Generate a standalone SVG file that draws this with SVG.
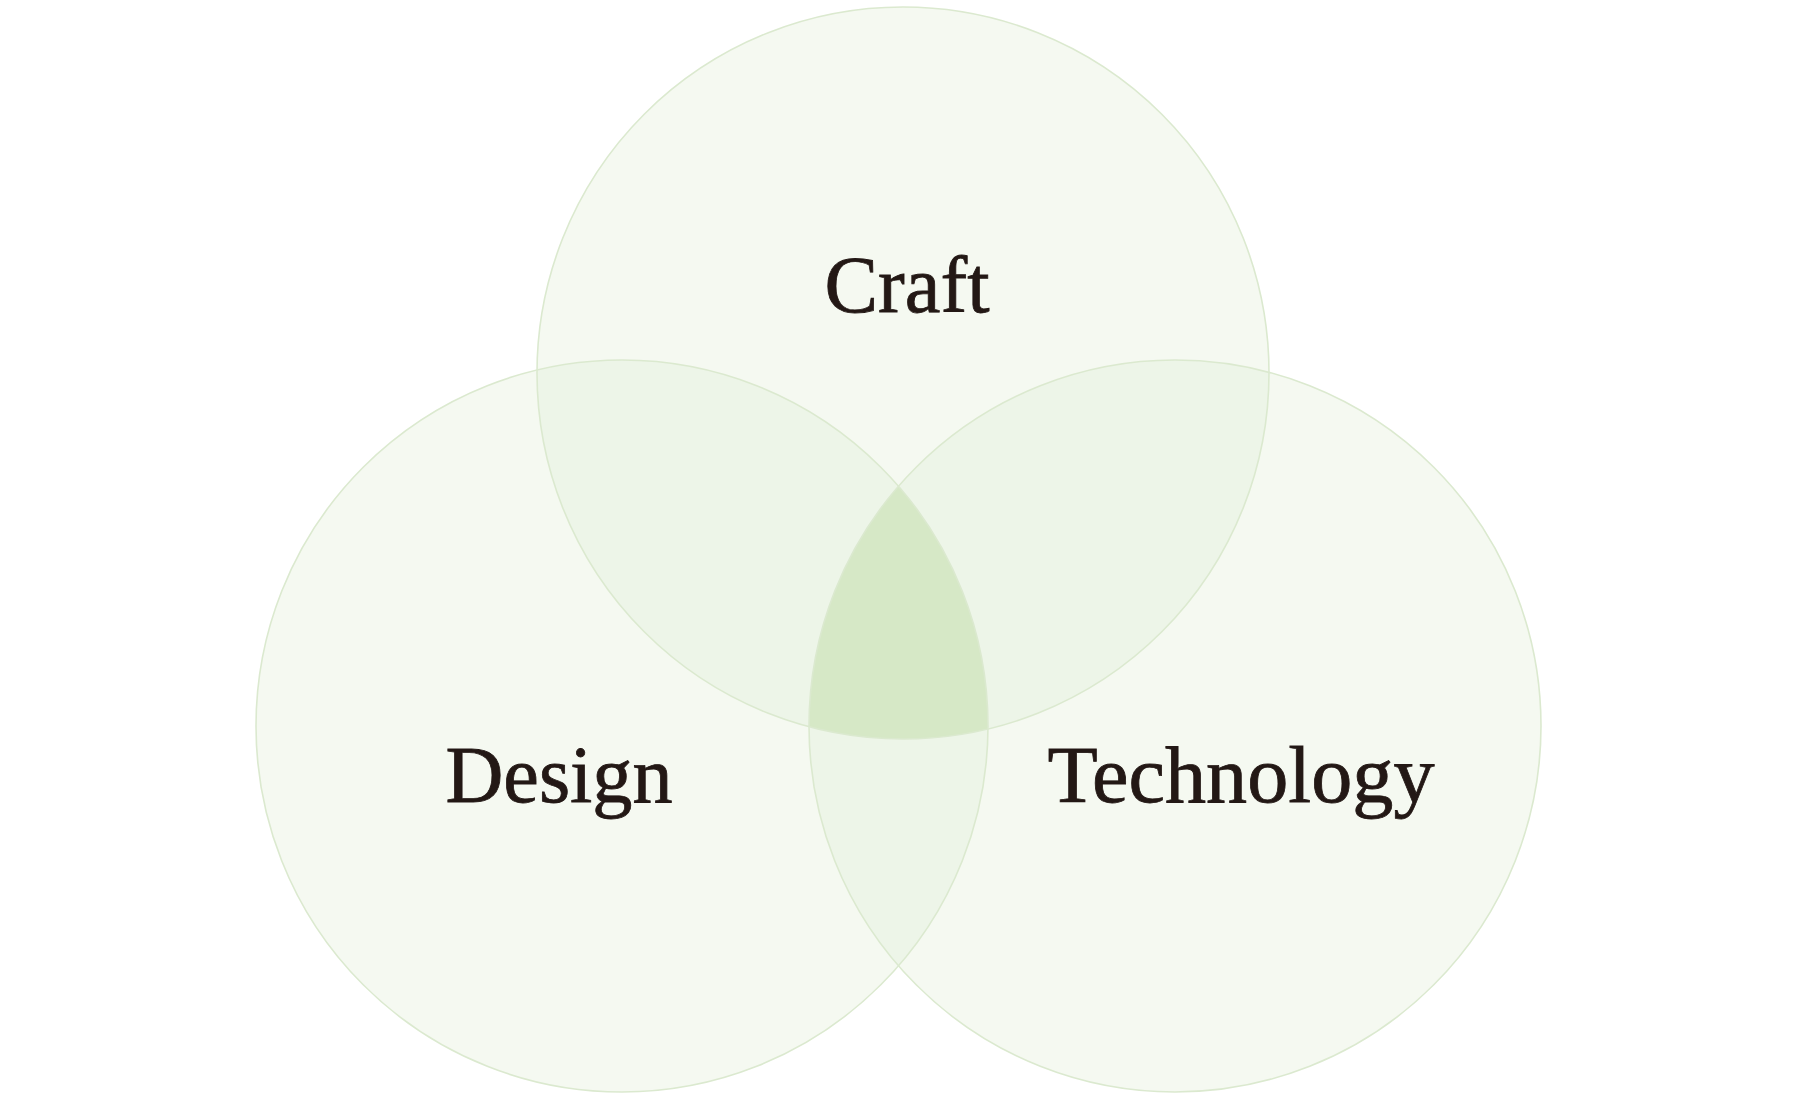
<svg xmlns="http://www.w3.org/2000/svg" width="1800" height="1100" viewBox="0 0 1800 1100">
  <style>
    .single { fill: #f5f9f1; }
    .pair { fill: #edf5e8; }
    .triple { fill: #d6e8c6; }
    .ring { fill: none; stroke: #dbe9cf; stroke-width: 1.6; }
    .label { font-family: "Liberation Serif", "Times New Roman", serif; font-size: 80px; fill: #231815; stroke: #231815; stroke-width: 0.8; text-anchor: middle; }
  </style>
  <defs>
    <clipPath id="clipCraft"><circle cx="903" cy="373" r="366"/></clipPath>
    <clipPath id="clipDesign"><circle cx="622" cy="726" r="366"/></clipPath>
    <clipPath id="clipTech"><circle cx="1175" cy="726" r="366"/></clipPath>
  </defs>
  <rect width="1800" height="1100" fill="#ffffff"/>
  <g id="regions">
    <circle class="single" cx="903" cy="373" r="366"/>
    <circle class="single" cx="622" cy="726" r="366"/>
    <circle class="single" cx="1175" cy="726" r="366"/>
    <g clip-path="url(#clipCraft)"><circle class="pair" cx="622" cy="726" r="366"/><circle class="pair" cx="1175" cy="726" r="366"/></g>
    <g clip-path="url(#clipDesign)"><circle class="pair" cx="1175" cy="726" r="366"/></g>
    <g clip-path="url(#clipCraft)"><g clip-path="url(#clipDesign)"><circle class="triple" cx="1175" cy="726" r="366"/></g></g>
  </g>
  <g id="node-craft">
    <circle class="ring" cx="903" cy="373" r="366"/>
    <text class="label" x="907" y="312" textLength="165" lengthAdjust="spacingAndGlyphs">Craft</text>
  </g>
  <g id="node-design">
    <circle class="ring" cx="622" cy="726" r="366"/>
    <text class="label" x="559" y="802" textLength="227" lengthAdjust="spacingAndGlyphs">Design</text>
  </g>
  <g id="node-technology">
    <circle class="ring" cx="1175" cy="726" r="366"/>
    <text class="label" x="1241" y="802" textLength="387" lengthAdjust="spacingAndGlyphs">Technology</text>
  </g>
  <g id="connectors"></g>
</svg>
